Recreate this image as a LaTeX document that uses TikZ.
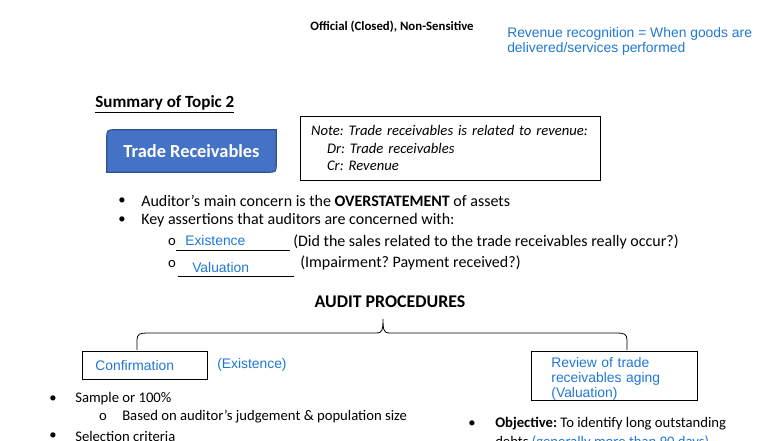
\documentclass[tikz,border=0pt]{standalone}
\usepackage{fontspec}
\setmainfont{Carlito}
\newfontfamily\arialfont{Liberation Sans}
\usetikzlibrary{positioning}
\definecolor{inkblue}{RGB}{31,120,212}
\definecolor{trfill}{RGB}{68,114,196}
\definecolor{trline}{RGB}{47,82,143}
\frenchspacing
\tikzset{txt/.style={anchor=west,inner sep=0pt,font=\fontsize{11}{13}\selectfont},
  bigtxt/.style={txt,font=\fontsize{12}{14}\selectfont},
  bluetxt/.style={anchor=west,inner sep=0pt,text=inkblue,font=\arialfont\fontsize{10.4}{11.5}\selectfont},
  dot/.style={inner sep=0pt,font=\fontsize{11}{13}\selectfont},
  procbox/.style={draw,line width=0.6pt,anchor=north west,inner sep=0pt,align=left},
  line/.style={line width=0.6pt}}

\begin{document}
\begin{tikzpicture}[x=0.75pt,y=-0.75pt]
\useasboundingbox (0,0) rectangle (784,441);
% header
\node[inner sep=0pt,font=\bfseries\fontsize{9.6}{11}\selectfont] (off) at (392,27) {Official (Closed), Non-Sensitive};
\node[bluetxt,align=left] (rev) at (507,41.5) {Revenue recognition = When goods are\\delivered/services performed};
\node[txt,font=\bfseries\fontsize{12.8}{14}\selectfont] (sum) at (95,104) {\underline{Summary of Topic 2}};
% trade receivables + note
\node[inner sep=0pt,minimum width=126.75pt,minimum height=31.5pt] (tr) at (191.5,151) {};
\path[fill=trfill,draw=trline,line width=0.8pt] (tr.south west) -- ([yshift=-7pt]tr.north west) .. controls (tr.north west) .. ([xshift=7pt]tr.north west) -- (tr.north east) -- ([yshift=7pt]tr.south east) .. controls (tr.south east) .. ([xshift=-7pt]tr.south east) -- cycle;
\node[text=white,font=\bfseries\fontsize{13.8}{15}\selectfont] at (tr) {Trade Receivables};
\node[procbox,minimum width=225pt,minimum height=48pt,inner xsep=8pt,text width=209pt,font=\itshape\fontsize{11}{13.1}\selectfont] (note) at (300,116) {Note: Trade receivables is related to revenue:\\\hspace*{12pt}Dr: Trade receivables\\\hspace*{12pt}Cr: Revenue};
% concern + assertions
\node[dot] (b1) at (122,201) {•};
\node[bigtxt] (t1) at (141,201) {Auditor’s main concern is the \textbf{OVERSTATEMENT} of assets};
\node[dot] (b2) at (122,220) {•};
\node[bigtxt] (t2) at (141,220) {Key assertions that auditors are concerned with:};
\node[dot] (o1) at (172,242) {o};
\node[bluetxt] (ex) at (185,241) {Existence};
\node[bigtxt] (q1) at (293,242) {(Did the sales related to the trade receivables really occur?)};
\coordinate (u1a) at (176,250);
\coordinate (u1b) at (290,250);
\draw[line width=0.5pt] (u1a) -- (u1b);
\node[dot] (o2) at (172,264) {o};
\node[bluetxt] (val) at (192,268) {Valuation};
\node[bigtxt] (q2) at (300,263) {(Impairment? Payment received?)};
\coordinate (u2a) at (178,276);
\coordinate (u2b) at (294,276);
\draw[line width=0.5pt] (u2a) -- (u2b);
% audit procedures
\node[inner sep=0pt,font=\bfseries\fontsize{13.4}{15}\selectfont] (ap) at (390,302) {AUDIT PROCEDURES};
\coordinate (bl) at (137,350);
\coordinate (bt) at (383,319);
\coordinate (br) at (627,350);
\draw[line] (bl) -- (137,340) .. controls (137,334) and (140,333) .. (147,333) -- (377,333) .. controls (382,333) and (383,330) .. (bt) .. controls (383,330) and (384,333) .. (389,333) -- (617,333) .. controls (624,333) and (627,334) .. (627,340) -- (br);
\node[procbox,minimum width=93.75pt,minimum height=21pt,inner xsep=9.75pt,text width=74.25pt,text=inkblue,font=\arialfont\fontsize{10.4}{11.5}\selectfont] (conf) at (82,351) {Confirmation};
\node[bluetxt] (exist) at (217,365) {(Existence)};
\node[procbox,minimum width=124.5pt,minimum height=36.75pt,inner xsep=15pt,text width=94.5pt,text=inkblue,font=\arialfont\fontsize{10.4}{11.25}\selectfont] (aging) at (531,351) {\rule{0pt}{12pt}Review of trade\\receivables aging\\(Valuation)};
% confirmation details
\node[dot] (c1) at (53,399) {•};
\node[txt] (ct1) at (75,399) {Sample or 100\%};
\node[dot] (c2) at (103,417) {o};
\node[txt] (ct2) at (122,417) {Based on auditor’s judgement \& population size};
\node[dot] (c3) at (53,436) {•};
\node[txt] (ct3) at (75,436) {Selection criteria};
% aging details
\node[dot] (r1) at (472,424) {•};
\node[txt] (rt1) at (495,424) {\textbf{Objective:} To identify long outstanding};
\node[txt] (rt2) at (495,442) {debts \textcolor{inkblue}{(generally more than 90 days)}};
\end{tikzpicture}
\end{document}
